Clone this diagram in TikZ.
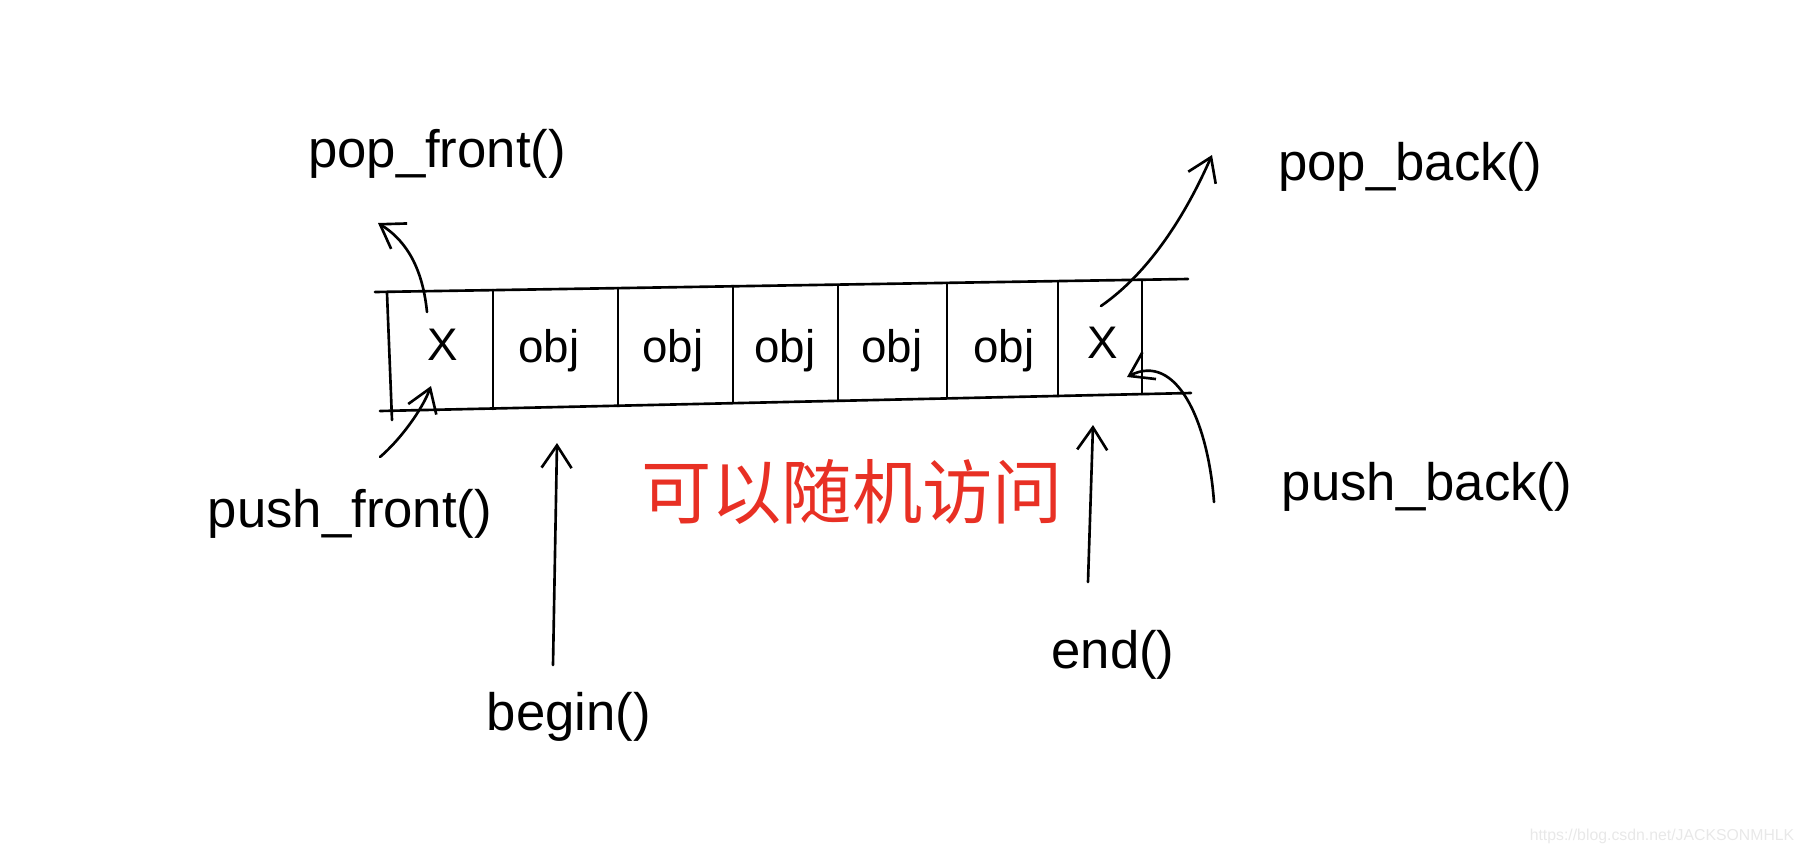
\documentclass[tikz,border=0pt]{standalone}
\usepackage{fontspec}
\setmainfont{Liberation Sans}
\newfontfamily\cjk{Noto Sans CJK SC}
\usetikzlibrary{arrows.meta}
\definecolor{penred}{RGB}{232,48,36}
\definecolor{wmgray}{RGB}{232,232,232}

\begin{document}
\begin{tikzpicture}[x=0.02cm, y=-0.02cm, line join=round, line cap=round,
    pen/.style={line width=1.5pt},
    hand/.style={pen, -{Straight Barb[length=4.5mm,width=6mm]}},
    lbl/.style={font=\fontsize{30}{36}\selectfont, inner sep=0pt, anchor=base},
    cell/.style={font=\fontsize{26}{30}\selectfont, inner sep=0pt},
    note/.style={font=\cjk\fontsize{40}{48}\selectfont, text=penred, inner sep=0pt}]

    \useasboundingbox (0,0) rectangle (1805,856);

    % Corners of the deque strip
    \coordinate (T0) at (375,292);   % top line, left
    \coordinate (T1) at (1188,279);  % top line, right
    \coordinate (B0) at (380,411);   % bottom line, left
    \coordinate (B1) at (1191,393);  % bottom line, right

    % Draw the strip
    \draw[pen] (T0) -- (T1);
    \draw[pen] (B0) -- (B1);
    \draw[pen] (387,293) -- (392,420);
    \foreach \x/\yt/\yb in {493/290/409, 618/288/406, 733/286/403, 838/285/401,
                            947/283/398, 1058/281/396, 1142/280/394}
        \draw[pen] (\x,\yt) -- (\x,\yb);

    % Cell contents
    \node[cell] (cellL) at (443,345) {X};
    \foreach \i/\x in {1/549, 2/673, 3/785, 4/892, 5/1004}
        \node[cell] (obj\i) at (\x,351) {obj};
    \node[cell] (cellR) at (1103,343) {X};

    % Labels of the operations
    \node[lbl] (popf)  at (437,167) {pop\_front()};
    \node[lbl] (pushf) at (350,527) {push\_front()};
    \node[lbl] (begin) at (569,730) {begin()};
    \node[lbl] (end)   at (1113,668) {end()};
    \node[lbl] (popb)  at (1410,180) {pop\_back()};
    \node[lbl] (pushb) at (1427,500) {push\_back()};

    % Random access note
    \node[note] (rand) at (852,492) {可以随机访问};

    % Arrow end points
    \coordinate (pfA) at (427,312);   % pop_front, from the cell
    \coordinate (pfB) at (378,223);   % pop_front, tip
    \coordinate (psA) at (380,457);   % push_front, tail
    \coordinate (psB) at (431,386);   % push_front, tip
    \coordinate (bgA) at (553,665);   % begin, tail
    \coordinate (bgB) at (557,443);   % begin, tip
    \coordinate (edA) at (1088,582);  % end, tail
    \coordinate (edB) at (1093,425);  % end, tip
    \coordinate (pbA) at (1101,306);  % pop_back, from the cell
    \coordinate (pbB) at (1212,155);  % pop_back, tip
    \coordinate (ubA) at (1214,502);  % push_back, tail
    \coordinate (ubB) at (1127,377);  % push_back, tip

    % Draw arrows
    \draw[hand] (pfA) .. controls (422,262) and (402,238) .. (pfB);
    \draw[hand] (psA) .. controls (400,440) and (422,410) .. (psB);
    \draw[hand] (bgA) -- (bgB);
    \draw[hand] (edA) -- (edB);
    \draw[hand] (pbA) .. controls (1150,272) and (1186,214) .. (pbB);
    \draw[hand] (ubA) .. controls (1208,420) and (1176,352) .. (ubB);

    % Watermark
    \node[font=\fontsize{9}{11}\selectfont, text=wmgray, inner sep=0pt] (wm) at (1662,836)
        {https://blog.csdn.net/JACKSONMHLK};
\end{tikzpicture}
\end{document}
